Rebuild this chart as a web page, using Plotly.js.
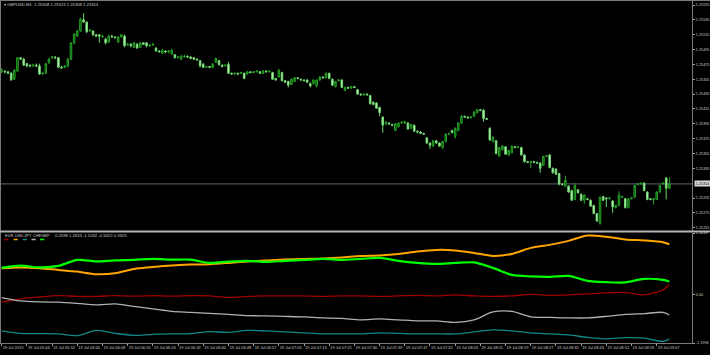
<!DOCTYPE html>
<html><head><meta charset="utf-8">
<script src="https://cdn.plot.ly/plotly-3.0.1.min.js"></script>
<style>html,body{margin:0;padding:0;background:#000;overflow:hidden}#chart{width:710px;height:355px}</style>
</head><body><div id="chart"></div>
<script>
const symbol = 'GBPUSD,M1';

const timeLabels = ['19 Jul 2019','19 Jul 05:44','19 Jul 05:52','19 Jul 06:00','19 Jul 06:08','19 Jul 06:16','19 Jul 06:24','19 Jul 06:32','19 Jul 06:40','19 Jul 06:48','19 Jul 06:57','19 Jul 07:05','19 Jul 07:13','19 Jul 07:21','19 Jul 07:30','19 Jul 07:39','19 Jul 07:47','19 Jul 07:55','19 Jul 08:03','19 Jul 08:11','19 Jul 08:19','19 Jul 08:27','19 Jul 08:35','19 Jul 08:43','19 Jul 08:51','19 Jul 08:59','19 Jul 09:07'];
const labelBars = [0,8,16,24,32,40,48,56,64,72,80,88,96,104,112,120,128,136,144,152,160,168,176,184,192,200,208];

const barOpen = [1.25465,1.25466,1.25465,1.25463,1.25455,1.25466,1.25484,1.25482,1.25476,1.25474,
1.25473,1.25474,1.25473,1.25462,1.25463,1.25477,1.25484,1.25485,1.25484,1.25471,
1.25471,1.25473,1.25482,1.25504,1.25513,1.25520,1.25535,1.25532,1.25520,1.25520,
1.25515,1.25515,1.25512,1.25509,1.25505,1.25513,1.25512,1.25505,1.25512,1.25513,
1.25501,1.25502,1.25498,1.25502,1.25498,1.25504,1.25504,1.25500,1.25501,1.25497,
1.25493,1.25490,1.25493,1.25492,1.25489,1.25488,1.25484,1.25482,1.25485,1.25486,
1.25485,1.25484,1.25482,1.25480,1.25475,1.25471,1.25472,1.25471,1.25478,1.25480,
1.25474,1.25473,1.25475,1.25463,1.25462,1.25463,1.25463,1.25463,1.25462,1.25465,
1.25464,1.25465,1.25465,1.25463,1.25466,1.25465,1.25464,1.25456,1.25458,1.25464,
1.25453,1.25452,1.25448,1.25452,1.25457,1.25455,1.25454,1.25454,1.25449,1.25449,
1.25446,1.25454,1.25458,1.25457,1.25463,1.25455,1.25445,1.25453,1.25454,1.25440,
1.25444,1.25443,1.25445,1.25441,1.25435,1.25434,1.25435,1.25433,1.25424,1.25423,
1.25417,1.25404,1.25395,1.25396,1.25394,1.25386,1.25391,1.25396,1.25396,1.25396,
1.25389,1.25393,1.25385,1.25384,1.25382,1.25376,1.25369,1.25365,1.25372,1.25369,
1.25363,1.25371,1.25381,1.25386,1.25378,1.25386,1.25396,1.25405,1.25404,1.25403,
1.25405,1.25410,1.25414,1.25413,1.25402,1.25389,1.25371,1.25372,1.25352,1.25360,
1.25364,1.25353,1.25356,1.25364,1.25363,1.25363,1.25353,1.25344,1.25343,1.25344,
1.25343,1.25342,1.25339,1.25351,1.25353,1.25335,1.25334,1.25328,1.25314,1.25311,
1.25311,1.25305,1.25293,1.25306,1.25300,1.25292,1.25294,1.25292,1.25285,1.25274,
1.25261,1.25297,1.25295,1.25294,1.25291,1.25282,1.25285,1.25296,1.25294,1.25282,
1.25294,1.25296,1.25313,1.25314,1.25315,1.25303,1.25294,1.25293,1.25293,1.25303,
1.25314,1.25322,1.25308];

const barHigh = [1.25470,1.25467,1.25466,1.25465,1.25469,1.25485,1.25485,1.25484,1.25477,1.25475,
1.25476,1.25476,1.25476,1.25465,1.25477,1.25484,1.25486,1.25486,1.25485,1.25473,
1.25474,1.25484,1.25505,1.25517,1.25521,1.25538,1.25544,1.25533,1.25523,1.25521,
1.25516,1.25516,1.25515,1.25511,1.25515,1.25515,1.25513,1.25513,1.25516,1.25515,
1.25504,1.25504,1.25505,1.25504,1.25505,1.25505,1.25505,1.25502,1.25504,1.25498,
1.25494,1.25496,1.25494,1.25494,1.25496,1.25489,1.25486,1.25488,1.25488,1.25487,
1.25486,1.25485,1.25483,1.25481,1.25477,1.25473,1.25473,1.25477,1.25484,1.25481,
1.25475,1.25475,1.25478,1.25464,1.25464,1.25464,1.25465,1.25464,1.25466,1.25466,
1.25466,1.25467,1.25466,1.25467,1.25467,1.25467,1.25465,1.25457,1.25469,1.25465,
1.25454,1.25453,1.25456,1.25458,1.25458,1.25456,1.25455,1.25455,1.25451,1.25455,
1.25455,1.25459,1.25459,1.25464,1.25464,1.25456,1.25453,1.25455,1.25455,1.25445,
1.25445,1.25446,1.25446,1.25442,1.25436,1.25436,1.25436,1.25434,1.25425,1.25424,
1.25418,1.25405,1.25399,1.25397,1.25395,1.25396,1.25397,1.25398,1.25399,1.25397,
1.25395,1.25394,1.25386,1.25385,1.25383,1.25377,1.25370,1.25373,1.25373,1.25370,
1.25372,1.25382,1.25383,1.25387,1.25390,1.25397,1.25407,1.25406,1.25405,1.25405,
1.25412,1.25415,1.25415,1.25415,1.25403,1.25390,1.25378,1.25373,1.25364,1.25366,
1.25365,1.25360,1.25366,1.25365,1.25365,1.25364,1.25354,1.25345,1.25345,1.25345,
1.25344,1.25343,1.25352,1.25353,1.25354,1.25336,1.25335,1.25329,1.25315,1.25325,
1.25312,1.25306,1.25315,1.25307,1.25301,1.25300,1.25295,1.25293,1.25286,1.25275,
1.25297,1.25298,1.25296,1.25296,1.25292,1.25286,1.25304,1.25298,1.25295,1.25295,
1.25296,1.25313,1.25315,1.25316,1.25316,1.25304,1.25295,1.25295,1.25304,1.25313,
1.25316,1.25323,1.25323];

const barLow = [1.25463,1.25463,1.25462,1.25453,1.25454,1.25465,1.25481,1.25473,1.25471,1.25471,
1.25471,1.25471,1.25461,1.25461,1.25462,1.25476,1.25482,1.25482,1.25470,1.25469,
1.25470,1.25471,1.25481,1.25502,1.25512,1.25519,1.25531,1.25517,1.25519,1.25513,
1.25512,1.25504,1.25511,1.25502,1.25504,1.25511,1.25510,1.25504,1.25511,1.25498,
1.25500,1.25498,1.25497,1.25496,1.25497,1.25501,1.25498,1.25498,1.25500,1.25492,
1.25491,1.25489,1.25490,1.25490,1.25488,1.25483,1.25483,1.25481,1.25484,1.25484,
1.25482,1.25481,1.25480,1.25471,1.25470,1.25470,1.25470,1.25470,1.25477,1.25473,
1.25471,1.25472,1.25462,1.25461,1.25461,1.25461,1.25462,1.25455,1.25461,1.25463,
1.25463,1.25464,1.25462,1.25462,1.25464,1.25464,1.25454,1.25453,1.25457,1.25452,
1.25450,1.25444,1.25447,1.25451,1.25455,1.25453,1.25452,1.25450,1.25444,1.25448,
1.25444,1.25453,1.25456,1.25456,1.25455,1.25446,1.25444,1.25452,1.25443,1.25439,
1.25442,1.25442,1.25443,1.25434,1.25433,1.25433,1.25433,1.25421,1.25420,1.25415,
1.25405,1.25383,1.25393,1.25393,1.25392,1.25385,1.25390,1.25395,1.25395,1.25387,
1.25388,1.25384,1.25382,1.25381,1.25380,1.25368,1.25361,1.25364,1.25368,1.25364,
1.25361,1.25370,1.25380,1.25382,1.25375,1.25385,1.25395,1.25403,1.25402,1.25402,
1.25404,1.25409,1.25412,1.25398,1.25400,1.25372,1.25370,1.25354,1.25350,1.25359,
1.25353,1.25352,1.25355,1.25362,1.25362,1.25352,1.25343,1.25342,1.25335,1.25342,
1.25341,1.25329,1.25338,1.25350,1.25335,1.25328,1.25326,1.25312,1.25312,1.25310,
1.25302,1.25291,1.25292,1.25301,1.25291,1.25287,1.25292,1.25283,1.25273,1.25263,
1.25259,1.25291,1.25283,1.25293,1.25275,1.25281,1.25284,1.25295,1.25281,1.25281,
1.25293,1.25295,1.25312,1.25313,1.25304,1.25292,1.25292,1.25286,1.25292,1.25302,
1.25313,1.25293,1.25308];

const barClose = [1.25467,1.25465,1.25463,1.25454,1.25467,1.25484,1.25482,1.25474,1.25473,1.25473,
1.25474,1.25473,1.25462,1.25463,1.25476,1.25482,1.25485,1.25484,1.25471,1.25470,
1.25473,1.25482,1.25504,1.25516,1.25520,1.25536,1.25532,1.25519,1.25521,1.25515,
1.25513,1.25513,1.25513,1.25504,1.25513,1.25512,1.25511,1.25512,1.25515,1.25500,
1.25502,1.25500,1.25504,1.25497,1.25504,1.25502,1.25500,1.25501,1.25502,1.25493,
1.25492,1.25494,1.25492,1.25493,1.25494,1.25484,1.25485,1.25486,1.25486,1.25485,
1.25483,1.25482,1.25481,1.25473,1.25471,1.25472,1.25471,1.25475,1.25483,1.25475,
1.25472,1.25474,1.25463,1.25462,1.25463,1.25462,1.25464,1.25456,1.25465,1.25464,
1.25465,1.25466,1.25463,1.25466,1.25465,1.25466,1.25455,1.25454,1.25467,1.25453,
1.25451,1.25447,1.25455,1.25457,1.25456,1.25454,1.25453,1.25451,1.25446,1.25454,
1.25454,1.25458,1.25457,1.25463,1.25456,1.25447,1.25452,1.25454,1.25444,1.25444,
1.25443,1.25445,1.25444,1.25435,1.25434,1.25435,1.25434,1.25422,1.25421,1.25416,
1.25410,1.25393,1.25397,1.25395,1.25393,1.25395,1.25396,1.25397,1.25398,1.25388,
1.25394,1.25385,1.25384,1.25382,1.25381,1.25369,1.25366,1.25372,1.25369,1.25365,
1.25371,1.25381,1.25382,1.25383,1.25389,1.25396,1.25405,1.25404,1.25403,1.25404,
1.25411,1.25414,1.25413,1.25402,1.25401,1.25373,1.25377,1.25355,1.25363,1.25365,
1.25354,1.25359,1.25365,1.25363,1.25364,1.25353,1.25344,1.25343,1.25344,1.25343,
1.25342,1.25335,1.25351,1.25352,1.25336,1.25329,1.25327,1.25314,1.25313,1.25319,
1.25303,1.25292,1.25312,1.25302,1.25292,1.25299,1.25293,1.25284,1.25274,1.25264,
1.25296,1.25292,1.25294,1.25295,1.25283,1.25285,1.25299,1.25297,1.25282,1.25294,
1.25295,1.25312,1.25314,1.25315,1.25305,1.25293,1.25293,1.25294,1.25303,1.25312,
1.25315,1.25308,1.25314];

const priceTicks = [1.25555,1.25535,1.25515,1.25495,1.25475,1.25455,1.25435,1.25415,1.25395,1.25375,1.25355,1.25335,1.25295,1.25275,1.25255];

const currencies = ['EUR','USD','JPY','CHF','GBP'];
const currencyColors = ['#a00000','#ffa500','#138787','#b0b0b0','#00ff00'];
const lineIdx = [0,6,12,18,24,30,36,42,48,54,60,66,72,78,84,90,96,102,108,114,120,126,132,138,144,150,156,162,168,174,180,186,192,198,204,210,212];
const eurStrength = [-0.182,-0.100,-0.050,-0.017,-0.037,-0.037,-0.017,-0.032,-0.017,-0.032,-0.017,-0.025,-0.062,-0.037,-0.025,-0.025,-0.025,-0.037,-0.025,-0.025,-0.037,-0.025,-0.012,-0.025,0.000,-0.025,-0.037,-0.025,0.012,-0.012,0.000,0.025,0.050,0.062,0.000,0.125,0.2598];
const usdStrength = [0.666,0.686,0.666,0.623,0.581,0.516,0.541,0.648,0.698,0.736,0.756,0.766,0.798,0.835,0.860,0.885,0.898,0.910,0.935,0.973,0.985,1.022,1.085,1.122,1.110,1.047,0.973,1.022,1.172,1.247,1.347,1.480,1.450,1.384,1.359,1.314,1.2633];
const jpyStrength = [-0.898,-0.960,-0.965,-0.973,-1.015,-0.885,-0.960,-1.010,-0.985,-0.973,-0.965,-0.915,-0.935,-0.885,-0.898,-0.923,-0.948,-0.973,-0.973,-0.973,-0.948,-0.960,-0.973,-0.973,-0.973,-0.923,-0.873,-0.898,-0.948,-0.973,-0.998,-1.060,-1.097,-1.065,-1.080,-1.160,-1.1032];
const chfStrength = [-0.067,-0.150,-0.175,-0.182,-0.212,-0.249,-0.224,-0.287,-0.349,-0.411,-0.436,-0.461,-0.486,-0.516,-0.524,-0.536,-0.549,-0.574,-0.586,-0.623,-0.599,-0.623,-0.648,-0.648,-0.686,-0.623,-0.424,-0.411,-0.549,-0.561,-0.574,-0.574,-0.536,-0.486,-0.466,-0.436,-0.5022];
const gbpStrength = [0.681,0.731,0.686,0.723,0.873,0.835,0.860,0.873,0.898,0.880,0.878,0.798,0.830,0.848,0.823,0.848,0.873,0.898,0.873,0.898,0.923,0.848,0.798,0.773,0.798,0.810,0.673,0.499,0.461,0.449,0.474,0.349,0.317,0.312,0.399,0.374,0.3325];
const strengthTicks = [1.5436, 0, -1.1996];
const strengthTickText = ['1.5436','0.00','-1.1996'];

// ---- layout constants (pixels) ----
const W = 710, H = 355;
const px = v => v / W, py = v => 1 - v / H;
const plotRight = px(692);
const textCol = '#c8c8c8', frameCol = '#7a7a7a';
const font = 'Liberation Sans, Arial, sans-serif';
const legendX = [3.3, 12.7, 22, 30.7, 39.3];

const barIndex = barOpen.map((_, i) => i);
const n = barClose.length;
const lastClose = barClose[n - 1];
const series = [eurStrength, usdStrength, jpyStrength, chfStrength, gbpStrength];
const widths = [1.3, 2, 1.3, 1.3, 2.2];

const traces = [{
  type: 'candlestick', x: barIndex, open: barOpen, high: barHigh, low: barLow, close: barClose,
  xaxis: 'x', yaxis: 'y', whiskerwidth: 0, hoverinfo: 'none', showlegend: false,
  increasing: {line: {color: '#25a025', width: 1}, fillcolor: '#0b4a0b'},
  decreasing: {line: {color: '#6ed66e', width: 1}, fillcolor: '#d6ffd6'}
}];
series.forEach((s, k) => traces.push({
  type: 'scatter', mode: 'lines', x: lineIdx, y: s, xaxis: 'x2', yaxis: 'y2',
  line: {color: currencyColors[k], width: widths[k], shape: 'spline', smoothing: 0.8},
  hoverinfo: 'none', showlegend: false
}));

const annotations = [
  {xref: 'paper', yref: 'paper', x: px(2), y: py(4.5), xanchor: 'left', yanchor: 'middle', showarrow: false,
   text: '▾ ' + symbol + '  ' + [barOpen[n-1], barHigh[n-1], barLow[n-1], barClose[n-1]].map(v => v.toFixed(5)).join(' '),
   font: {family: font, size: 4.2, color: textCol}},
  {xref: 'paper', yref: 'y', x: plotRight + px(2), y: lastClose, xanchor: 'left', yanchor: 'middle', showarrow: false,
   text: lastClose.toFixed(5), bgcolor: '#d8d8d8', borderpad: 0.5,
   font: {family: font, size: 3.8, color: '#000'}},
  {xref: 'paper', yref: 'paper', x: px(52.5), y: py(235.5), xanchor: 'left', yanchor: 'middle', showarrow: false,
   text: series.map(s => s[s.length - 1].toFixed(4)).join(' '),
   font: {family: font, size: 4.2, color: textCol}}
];
const shapes = [
  {type: 'line', xref: 'paper', yref: 'y', x0: 0, x1: plotRight, y0: lastClose, y1: lastClose,
   line: {color: '#5e6874', width: 1}, layer: 'below'},
  {type: 'line', xref: 'paper', yref: 'paper', x0: 0, x1: 1, y0: py(0.5), y1: py(0.5), line: {color: frameCol, width: 1}},
  {type: 'line', xref: 'paper', yref: 'paper', x0: px(0.5), x1: px(0.5), y0: py(0), y1: py(343), line: {color: frameCol, width: 1}},
  {type: 'line', xref: 'paper', yref: 'paper', x0: 0, x1: 1, y0: py(231.5), y1: py(231.5), line: {color: '#b4b4b4', width: 2}}
];
currencies.forEach((c, k) => {
  const x0 = legendX[k];
  annotations.push({xref: 'paper', yref: 'paper', x: px(x0), y: py(235.5), xanchor: 'left', yanchor: 'middle',
    showarrow: false, text: c, font: {family: font, size: 4, color: textCol}});
  shapes.push({type: 'line', xref: 'paper', yref: 'paper', x0: px(x0 + 0.8), x1: px(x0 + 5), y0: py(239.5), y1: py(239.5),
    line: {color: currencyColors[k], width: 1.5}});
});

const xr = [-0.54, 219.2];
const layout = {
  width: W, height: H, margin: {l: 0, r: 0, t: 0, b: 0},
  paper_bgcolor: '#000', plot_bgcolor: '#000', showlegend: false,
  font: {family: font, color: textCol},
  xaxis: {domain: [0, plotRight], range: xr, anchor: 'y', showticklabels: false, showgrid: false, zeroline: false,
          showline: false, ticks: '', rangeslider: {visible: false}, fixedrange: true},
  yaxis: {domain: [py(231), py(1)], range: [1.2525056, 1.2556039], side: 'right', anchor: 'x',
          tickvals: priceTicks, ticktext: priceTicks.map(v => v.toFixed(5)),
          ticks: 'outside', ticklen: 2, tickcolor: '#a0a0a0', tickfont: {family: font, size: 3.8, color: textCol},
          showgrid: false, zeroline: false, showline: true, linecolor: frameCol, linewidth: 1, fixedrange: true},
  xaxis2: {domain: [0, plotRight], range: xr, anchor: 'y2', tickvals: labelBars, ticktext: timeLabels,
           tickangle: 0, ticks: 'outside', ticklen: 2, tickcolor: '#a0a0a0', ticklabelposition: 'outside right',
           tickfont: {family: font, size: 4, color: textCol}, showgrid: false, zeroline: false,
           showline: true, linecolor: frameCol, linewidth: 1, fixedrange: true},
  yaxis2: {domain: [py(343), py(233)], range: [-1.1996, 1.5436], side: 'right', anchor: 'x2',
           tickvals: strengthTicks, ticktext: strengthTickText, ticks: 'outside', ticklen: 2, tickcolor: '#a0a0a0',
           tickfont: {family: font, size: 3.8, color: textCol}, showgrid: false, zeroline: false,
           showline: true, linecolor: frameCol, linewidth: 1, fixedrange: true},
  annotations: annotations, shapes: shapes
};

Plotly.newPlot('chart', traces, layout, {staticPlot: true, displayModeBar: false});
</script>
</body></html>
